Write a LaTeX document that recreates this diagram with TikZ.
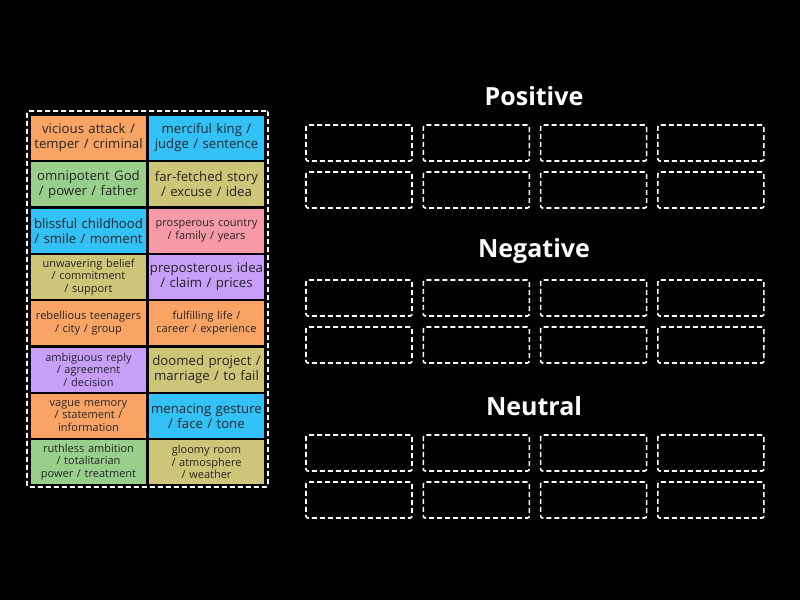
\documentclass[tikz,border=0pt]{standalone}
\usepackage{fontspec}
\setmainfont{Open Sans}
\usetikzlibrary{positioning}
\definecolor{orng}{HTML}{F9A464}
\definecolor{sky}{HTML}{32C2F8}
\definecolor{grn}{HTML}{98CF8C}
\definecolor{khaki}{HTML}{CDC577}
\definecolor{pink}{HTML}{F59AA6}
\definecolor{purp}{HTML}{C79EF8}
\tikzset{
  tile/.style={fill=#1, minimum width=115pt, minimum height=44pt, inner sep=0pt,
    text width=115pt, align=center, font=\fontsize{13.2}{15}\selectfont, text=black!85},
  small/.style={font=\fontsize{11}{12.5}\selectfont},
  slot/.style={draw=white, dashed, line width=1.6pt, dash pattern=on 5pt off 3pt,
    rounded corners=2pt, minimum width=106pt, minimum height=36pt},
  heading/.style={text=white, font=\bfseries\fontsize{25}{30}\selectfont}
}
\begin{document}
\begin{tikzpicture}[x=1pt, y=-1pt]
    \fill[black] (0,0) rectangle (800,600);
    \useasboundingbox (0,0) rectangle (800,600);
    % word bank
    \node[draw=white, dashed, line width=1.6pt, dash pattern=on 5pt off 3pt, rounded corners=2pt,
      minimum width=241pt, minimum height=376pt] (bank) at (147.5,299) {};
    \foreach \r/\c/\col/\txt/\sz in {
      0/0/orng/{vicious attack /\\temper / criminal}/,
      0/1/sky/{merciful king /\\judge / sentence}/,
      1/0/grn/{omnipotent God\\/ power / father}/,
      1/1/khaki/{far-fetched story\\/ excuse / idea}/,
      2/0/sky/{blissful childhood\\/ smile / moment}/,
      2/1/pink/{prosperous country\\/ family / years}/small,
      3/0/khaki/{unwavering belief\\/ commitment\\/ support}/small,
      3/1/purp/{preposterous idea\\/ claim / prices}/,
      4/0/orng/{rebellious teenagers\\/ city / group}/small,
      4/1/orng/{fulfilling life /\\career / experience}/small,
      5/0/purp/{ambiguous reply\\/ agreement\\/ decision}/small,
      5/1/khaki/{doomed project /\\marriage / to fail}/,
      6/0/orng/{vague memory\\/ statement /\\information}/small,
      6/1/sky/{menacing gesture\\/ face / tone}/,
      7/0/grn/{ruthless ambition\\/ totalitarian\\power / treatment}/small,
      7/1/khaki/{gloomy room\\/ atmosphere\\/ weather}/small}
      \node[tile=\col, \sz] (tile-\r-\c) at (88.5+118*\c, 138+46.3*\r) {\txt};
    % sorting groups
    \foreach \g/\name [count=\k from 0] in {pos/Positive, neg/Negative, neu/Neutral} {
      \node[heading] (head-\g) at (534, 96+155*\k) {\name};
      \foreach \j in {0,1}
        \foreach \i in {0,1,2,3}
          \node[slot] (\g-\j-\i) at (359+117.3*\i, 143+47*\j+155*\k) {};
    }
\end{tikzpicture}
\end{document}
